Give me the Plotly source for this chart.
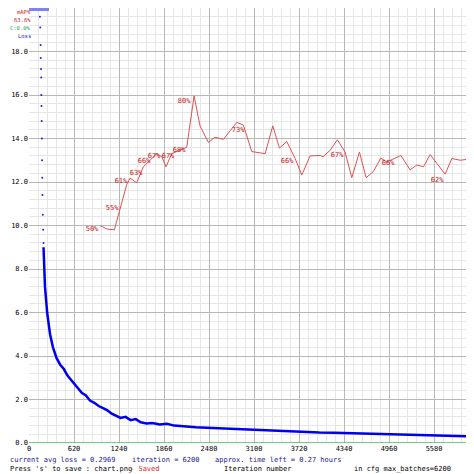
import plotly.graph_objects as go

# mAP checkpoints (iteration, mAP %)
map_iter = [978, 1071, 1176, 1346, 1392, 1484, 1575, 1760, 1829, 1888, 1966, 2173, 2274, 2356,
            2471, 2563, 2678, 2862, 2953, 3069, 3183, 3252, 3358, 3450, 3551, 3666, 3758, 3872,
            4010, 4051, 4148, 4248, 4354, 4447, 4552, 4644, 4744, 4846, 4929, 5122, 5250, 5343,
            5434, 5526, 5618, 5732, 5825, 5940, 6031, 6132]
map_val = [50.0, 49.2, 49.0, 59.4, 60.9, 59.8, 63.5, 66.5, 65.8, 63.5, 66.5, 68.0, 79.8, 72.9,
           69.1, 70.3, 69.8, 73.7, 73.1, 67.0, 66.7, 66.5, 72.9, 67.8, 69.3, 65.4, 61.6, 66.0,
           66.1, 65.8, 67.3, 69.7, 66.9, 61.0, 66.9, 61.0, 62.4, 65.5, 64.6, 66.1, 62.8, 63.9,
           63.5, 66.3, 64.3, 61.8, 65.4, 65.0, 65.2, 63.9]

# mAP labels as drawn on the chart (iteration, loss-scale y, text)
lab_iter = [868, 1144, 1267, 1474, 1585, 1722, 1915, 2067, 2136, 2880, 3555, 4244, 4947, 5622]
lab_y = [9.84, 10.79, 12.05, 12.42, 12.96, 13.18, 13.18, 13.45, 15.71, 14.40, 12.96, 13.23, 12.87, 12.10]
lab_text = ["50%", "55%", "61%", "63%", "66%", "67%", "67%", "68%", "80%", "73%", "66%", "67%", "66%", "62%"]

# early loss dots
dot_iter = [150, 155, 160, 162, 165, 168, 170, 172, 175, 178, 180, 183, 186, 190, 195, 200]
dot_loss = [19.6, 19.1, 18.3, 17.7, 17.2, 16.8, 16.0, 15.5, 14.8, 14.0, 13.0, 12.2, 11.4, 10.5, 9.8, 9.2]

# averaged loss curve
loss_iter = [200, 220, 250, 290, 330, 380, 430, 480, 530, 580, 630, 680, 730, 780, 840, 900,
             960, 1020, 1080, 1140, 1200, 1260, 1330, 1400, 1470, 1540, 1620, 1700, 1800, 1900,
             2000, 2150, 2300, 2450, 2600, 2800, 3000, 3200, 3400, 3600, 3800, 4000, 4200,
             4400, 4600, 4800, 5000, 5200, 5400, 5600, 5800, 6000, 6200]
loss_val = [9.0, 7.2, 6.0, 5.0, 4.4, 3.9, 3.6, 3.4, 3.1, 2.9, 2.7, 2.5, 2.3, 2.2, 1.95, 1.85,
            1.7, 1.6, 1.5, 1.35, 1.25, 1.15, 1.2, 1.05, 1.1, 0.95, 0.9, 0.92, 0.85, 0.88,
            0.8, 0.75, 0.72, 0.7, 0.68, 0.62, 0.6, 0.58, 0.56, 0.52, 0.5, 0.48, 0.47,
            0.45, 0.44, 0.43, 0.4, 0.39, 0.37, 0.36, 0.34, 0.32, 0.3]

x_ticks = [0, 620, 1240, 1860, 2480, 3100, 3720, 4340, 4960, 5580, 6200]
y_ticks = [0, 2, 4, 6, 8, 10, 12, 14, 16, 18]

FONT = "DejaVu Sans Mono"

fig = go.Figure()
fig.add_trace(go.Scatter(x=[0, 6200], y=[0, 0], mode="lines",
                         line=dict(color="#40c060", width=1.5)))
fig.add_trace(go.Scatter(x=map_iter, y=[v * 0.2 for v in map_val], mode="lines",
                         line=dict(color="#e05050", width=1)))
fig.add_trace(go.Scatter(x=dot_iter, y=dot_loss, mode="markers",
                         marker=dict(color="#2020e0", size=2)))
fig.add_trace(go.Scatter(x=loss_iter, y=loss_val, mode="lines",
                         line=dict(color="#0000ee", width=2.5)))
fig.add_trace(go.Scatter(x=lab_iter, y=lab_y, mode="text", text=lab_text,
                         textfont=dict(family=FONT, size=7, color="#c02020")))

ann = []
for i, (t, c) in enumerate([("mAP%", "#e02020"), ("63.6%", "#c02020"),
                            ("C:0.0%", "#20a050"), ("Loss", "#2020d0")]):
    ann.append(dict(x=0.008, y=1 - (4 + 8 * i) / 435, xref="paper", yref="paper",
                    xanchor="right", yanchor="middle", showarrow=False, text=t,
                    font=dict(family=FONT, size=5.5, color=c)))
bottom = [
    (-0.047, -0.039, "current avg loss = 0.2969", "#202090"),
    (0.227, -0.039, "iteration = 6200", "#202090"),
    (0.413, -0.039, "approx. time left = 0.27 hours", "#202090"),
    (-0.047, -0.06, "Press 's' to save : chart.png", "black"),
    (0.222, -0.06, "- Saved", "#e02020"),
    (0.434, -0.06, "Iteration number", "black"),
    (0.726, -0.06, "in cfg max_batches=6200", "black"),
]
for x, y, t, c in bottom:
    ann.append(dict(x=x, y=y, xref="paper", yref="paper", xanchor="left", yanchor="middle",
                    showarrow=False, text=t, font=dict(family=FONT, size=7, color=c)))

fig.update_layout(
    width=466, height=466, margin=dict(l=21, r=0, t=0, b=31),
    paper_bgcolor="white", plot_bgcolor="white", showlegend=False,
    annotations=ann,
    shapes=[dict(type="rect", xref="paper", yref="paper", x0=0, x1=0.045, y0=0.993, y1=1,
                 fillcolor="#8080ff", line=dict(width=0))],
    xaxis=dict(range=[0, 6130], tickvals=x_ticks, showgrid=True, gridcolor="#b8b8b8",
               gridwidth=1, minor=dict(dtick=124, showgrid=True, gridcolor="#e6e6e6"),
               zeroline=False, showline=False, ticks="", automargin=False,
               tickfont=dict(family=FONT, size=7, color="black")),
    yaxis=dict(range=[0, 20], tickvals=y_ticks, ticktext=[f"{v:.1f}" for v in y_ticks],
               showgrid=True, gridcolor="#b8b8b8", gridwidth=1,
               minor=dict(dtick=0.4, showgrid=True, gridcolor="#e6e6e6"),
               zeroline=False, showline=False, ticks="", automargin=False,
               tickfont=dict(family=FONT, size=7, color="black")),
)

fig.write_html("out.html")
